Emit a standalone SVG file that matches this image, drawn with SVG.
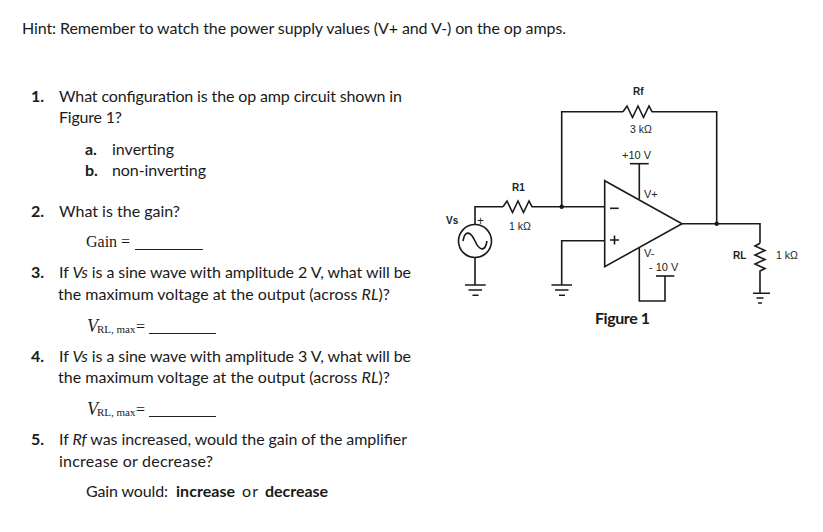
<svg xmlns="http://www.w3.org/2000/svg" width="823" height="532" viewBox="0 0 823 532">
<style>
text{fill:#1a1a1a}
.t{font-family:"Lato","Liberation Sans",sans-serif;font-size:16px}
.b{font-weight:700}
.i{font-style:italic}
.m{font-family:"Liberation Serif",serif;font-size:16px}
.v{font-size:18px;font-style:italic}
.s{font-size:11px}
.c{font-family:"Liberation Sans",Arial,sans-serif;font-size:10.500px;fill:#222}
.n{font-size:11px}
.cb{font-weight:700;font-size:10px}
.w{fill:none;stroke:#1a1a1a;stroke-width:1.600;stroke-linejoin:miter}
.u{stroke:#222;stroke-width:1}
</style>
<rect width="823" height="532" fill="#fff"/>
<g id="questions">
<text class="t" x="22" y="34" textLength="544">Hint: Remember to watch the power supply values (V+ and V-) on the op amps.</text>
<text class="t b" x="31" y="102">1.</text>
<text class="t" x="59" y="102" textLength="343">What configuration is the op amp circuit shown in</text>
<text class="t" x="59" y="123" textLength="63">Figure 1?</text>
<text class="t b" x="85" y="155">a.</text><text class="t" x="112" y="155" textLength="62">inverting</text>
<text class="t b" x="85" y="176">b.</text><text class="t" x="112" y="176" textLength="94">non-inverting</text>
<text class="t b" x="31" y="217">2.</text>
<text class="t" x="59" y="217" textLength="121">What is the gain?</text>
<text class="m" x="86" y="247">Gain =</text><line class="u" x1="135" y1="249.500" x2="203" y2="249.500"/>
<text class="t b" x="31" y="278">3.</text>
<text class="t" x="59" y="278" textLength="352">If <tspan class="i">Vs</tspan> is a sine wave with amplitude 2 V, what will be</text>
<text class="t" x="58" y="300" textLength="332">the maximum voltage at the output (across <tspan class="i">RL</tspan>)?</text>
<text class="m v" x="87" y="332">V</text><text class="m s" x="97" y="333">RL, max</text><text class="m" x="136" y="332">=</text><line class="u" x1="149" y1="333.500" x2="216" y2="333.500"/>
<text class="t b" x="31" y="362">4.</text>
<text class="t" x="59" y="362" textLength="352">If <tspan class="i">Vs</tspan> is a sine wave with amplitude 3 V, what will be</text>
<text class="t" x="58" y="383" textLength="332">the maximum voltage at the output (across <tspan class="i">RL</tspan>)?</text>
<text class="m v" x="87" y="415">V</text><text class="m s" x="97" y="416">RL, max</text><text class="m" x="136" y="415">=</text><line class="u" x1="149" y1="416.500" x2="216" y2="416.500"/>
<text class="t b" x="31" y="445">5.</text>
<text class="t" x="59" y="445" textLength="348">If <tspan class="i">Rf</tspan> was increased, would the gain of the amplifier</text>
<text class="t" x="59" y="467" textLength="154">increase or decrease?</text>
<text class="t" x="86" y="497" textLength="82">Gain would:</text>
<text class="t b" x="176" y="497" textLength="59">increase</text>
<text class="t" x="242" y="497" textLength="16">or</text>
<text class="t b" x="265" y="497" textLength="63">decrease</text>
</g>
<g id="connectors">
<path class="w" d="M475 224.500V206.700H503M534 206.700H604.700M561.700 206.700V111.700H623M655 111.700H716.700V223.700M561.700 285V240.700H604.700M475 257.700V285M682 223.700H760V243.300M760 273V293.300M639.300 163.700V199M639.300 248V301H665V276"/>
</g>
<g id="junctions">
<circle cx="561.700" cy="206.700" r="2.200" fill="#1a1a1a"/>
<circle cx="716.700" cy="223.700" r="2.200" fill="#1a1a1a"/>
</g>
<g id="vs">
<circle class="w" cx="475" cy="241" r="16.500"/>
<path class="w" d="M463 241C465 229 471 232 475 241S485 253 487 241"/>
<text class="c cb" x="446" y="224">Vs</text>
<text class="c" x="477" y="225" style="font-size:12px">+</text>
</g>
<g id="r1">
<path class="w" d="M503 206.700L507 201L512.500 212.500L518 201L523.500 212.500L529 201L532 206.700H534"/>
<text class="c cb" x="512" y="191">R1</text>
<text class="c" x="509" y="230">1 kΩ</text>
</g>
<g id="rf">
<path class="w" d="M623 111.700L627 106L632.500 117.500L638 106L643.500 117.500L649 106L652 111.700H655"/>
<text class="c cb" x="633" y="95">Rf</text>
<text class="c" x="630" y="133">3 kΩ</text>
</g>
<g id="opamp">
<path class="w" d="M604.700 180.700L682 223.700L604.700 266.700Z"/>
<path class="w" d="M610 208.300H618.700" stroke-width="2"/>
<path class="w" d="M610 240H619M614.500 235.500V244.500" stroke-width="2"/>
<text class="c n" x="644" y="198">V+</text>
<text class="c n" x="644" y="257">V-</text>
</g>
<g id="vplus">
<line class="w" x1="630" y1="163.700" x2="648.700" y2="163.700"/>
<text class="c n" x="622" y="159">+10 V</text>
</g>
<g id="vminus">
<line class="w" x1="656" y1="276" x2="674.300" y2="276"/>
<text class="c n" x="649" y="271">- 10 V</text>
</g>
<g id="rl">
<path class="w" d="M760 243.300L755 246L765 250.500L755 255L765 259.500L755 264L765 268.500L760 271V273"/>
<text class="c cb" x="733" y="259">RL</text>
<text class="c" x="776" y="259">1 kΩ</text>
</g>
<g id="grounds">
<path class="w" d="M465 285H485.700M468.500 290H482M472.500 295.300H478.500"/>
<path class="w" d="M551.500 285H572M555 290H568.500M559 295.300H565"/>
<path class="w" d="M753 293.300H770M756.500 298H763.500M758 303H762"/>
</g>
<text id="figure-label" class="t b" x="595" y="324" textLength="55">Figure 1</text>
</svg>
